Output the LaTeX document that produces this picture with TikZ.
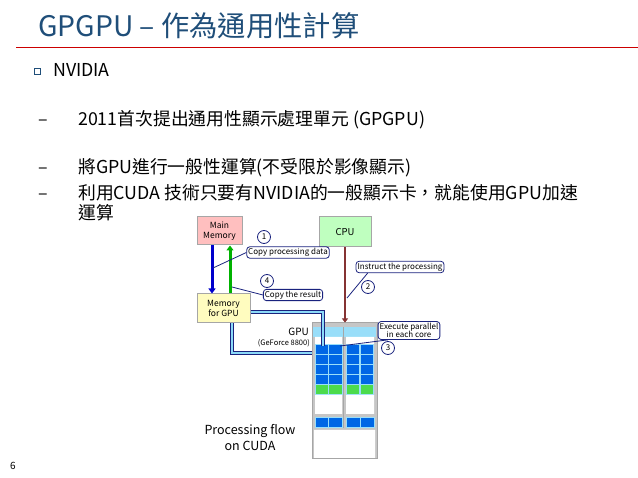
\documentclass[tikz,border=0pt]{standalone}
\usepackage{fontspec}
\setmainfont{Noto Sans CJK TC}
\usetikzlibrary{arrows.meta}
\definecolor{ttl}{HTML}{1F4E79}
\definecolor{cb}{HTML}{1A237E}
\begin{document}
\begin{tikzpicture}[x=1pt,y=-1pt,
  txt/.style={anchor=base west,inner sep=0,font=\fontsize{17.8}{20}\selectfont},
  box/.style={draw=gray!70,line width=1pt,align=center,inner sep=0,font=\fontsize{8.5}{9.5}\selectfont},
  call/.style={draw=cb,fill=white,rounded corners=3pt,line width=0.8pt,inner sep=1.5pt,align=center,font=\fontsize{8}{8.5}\selectfont},
  num/.style={circle,draw=cb,fill=white,line width=0.8pt,minimum size=13pt,inner sep=0,font=\fontsize{8}{8}\selectfont},
  ptr/.style={cb,line width=0.8pt},
  cell/.style={fill=blue!55!cyan!90!black,draw=cyan!40,line width=0.8pt}]
\useasboundingbox (0,0) rectangle (638,478);
\node[anchor=base west,inner sep=0,text=ttl,font=\fontsize{28.3}{30}\selectfont] (title) at (38,37) {GPGPU – 作為通用性計算};
\coordinate (l1) at (16,47); \coordinate (l2) at (638,47);
\draw[red!80!black,line width=0.7pt] (l1) -- (l2);
\node[draw=ttl,line width=0.9pt,minimum size=6pt,inner sep=0] (bul) at (37.5,71) {};
\node[txt] (t0) at (53,77) {NVIDIA};
\node[txt] (d1) at (38,126) {–}; \node[txt] (t1) at (78,126) {2011首次提出通用性顯示處理單元 (GPGPU)};
\node[txt] (d2) at (38,174) {–}; \node[txt] (t2) at (78,174) {將GPU進行一般性運算(不受限於影像顯示)};
\node[txt] (d3) at (38,200) {–}; \node[txt] (t3) at (78,200) {利用CUDA 技術只要有NVIDIA的一般顯示卡，就能使用GPU加速};
\node[txt] (t4) at (78,220) {運算};
\node[anchor=base west,inner sep=0,font=\fontsize{10}{12}\selectfont] (pg) at (10,470) {6};
% GPU body
\node[box,fill=gray!45,minimum width=65pt,minimum height=136pt] (gpu) at (344.5,391) {};
\fill[cyan!40] (313,327) rectangle (376,337);
\fill[white] (315,337) rectangle (342,344) (346,337) rectangle (374,344);
\foreach \x in {315,328.5,346,360} {
  \foreach \y in {344,354,364,374} {\draw[cell] (\x,\y) rectangle ++(13.5,10);}
  \draw[cell,fill=green!80!black!70] (\x,384) rectangle ++(13.5,10);
  \draw[cell] (\x,417) rectangle ++(14,10);
}
\fill[white] (315,395) rectangle (342,414) (346,395) rectangle (374,414) (314,430) rectangle (375,458);
\draw[gray!70,line width=1pt] (343.5,327) -- (343.5,428);
% boxes
\node[box,fill=red!25,minimum width=45pt,minimum height=28pt] (mm) at (219.5,231) {Main\\Memory};
\node[box,fill=green!25,minimum width=52pt,minimum height=30pt,font=\fontsize{9.5}{10}\selectfont] (cpu) at (345,232) {CPU};
\node[box,fill=yellow!25,minimum width=53pt,minimum height=29pt] (mg) at (223.5,308.5) {Memory\\for GPU};
% arrows
\draw[-{Triangle[length=5pt,width=7pt]},blue!80!black,line width=3pt] (mm.south -| 212,0) -- (mg.north -| 212,0);
\draw[-{Triangle[length=5pt,width=7pt]},green!70!black,line width=3pt] (mg.north -| 230,0) -- (mm.south -| 230,0);
\draw[-{Triangle[length=4pt,width=6pt]},red!40!black!80,line width=1.8pt] (cpu.south) -- (gpu.north -| cpu.south);
\draw[cb,line width=4pt] (mg.east |- 0,312) -- (323,312) -- (323,346);
\draw[cyan!45,line width=2.4pt] (mg.east |- 0,312) -- (323,312) -- (323,346);
\draw[cb,line width=4pt] (mg.south -| 232,0) -- (232,353) -- (gpu.west |- 0,353);
\draw[cyan!45,line width=2.4pt] (mg.south -| 232,0) -- (232,353) -- (gpu.west |- 0,353);
% callouts
\node[call] (c1) at (288,252.5) {Copy processing data};
\coordinate (p1) at (213,268); \draw[ptr] (c1.west) -- (p1);
\node[num] (n1) at (264,237) {1};
\node[call] (c2) at (400,267) {Instruct the processing};
\coordinate (p2) at (347,298); \draw[ptr] (c2.south west) ++(12,0) -- (p2);
\node[num] (n2) at (368,287) {2};
\node[call] (c4) at (293,295) {Copy the result};
\coordinate (p4) at (232,287); \draw[ptr] (c4.west) -- (p4);
\node[num] (n4) at (267,281) {4};
\node[call] (c3) at (409,330.5) {Execute parallel\\in each core};
\coordinate (p3) at (340,346); \draw[ptr] (c3.south west) ++(10,0) -- (p3);
\node[num] (n3) at (388,348) {3};
\node[anchor=east,inner sep=0,font=\fontsize{10}{10}\selectfont] (gl) at (309,332) {GPU};
\node[anchor=east,inner sep=0,font=\fontsize{7.5}{8}\selectfont] (gl2) at (310,343) {(GeForce 8800)};
\node[align=center,inner sep=0,font=\fontsize{12.5}{16}\selectfont] (pf) at (250,438) {Processing flow\\on CUDA};
\end{tikzpicture}
\end{document}
